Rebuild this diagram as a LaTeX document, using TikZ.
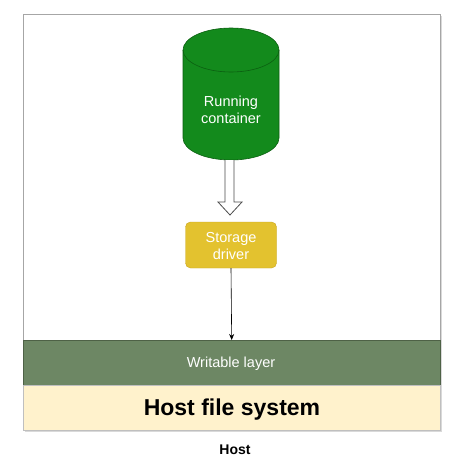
\documentclass[tikz,border=0pt]{standalone}
\usepackage{fontspec}
\setmainfont{Liberation Sans}
\usetikzlibrary{arrows.meta,shadows}
\definecolor{cgreen}{HTML}{138A1C}
\definecolor{cgreenD}{HTML}{0B5E10}
\definecolor{cgold}{HTML}{E3C22F}
\definecolor{cgoldD}{HTML}{C9A520}
\definecolor{wgreen}{HTML}{6D8764}
\definecolor{wgreenD}{HTML}{4E6146}
\definecolor{cream}{HTML}{FFF2CC}
\tikzset{
  lbl/.style={text=white,font=\fontsize{14.5}{17}\selectfont,align=center},
}
\begin{document}
\begin{tikzpicture}[x=1pt,y=-1pt]
\useasboundingbox (0,0) rectangle (474,464);
% outer host box
\node[draw=gray!70,fill=white,minimum width=417pt,minimum height=416pt,inner sep=0,anchor=north west,
  drop shadow={shadow xshift=2pt,shadow yshift=-2pt,opacity=0.3}] (host) at (23,14) {};
% writable layer
\node[draw=wgreenD,fill=wgreen,minimum width=417pt,minimum height=45pt,inner sep=0,anchor=north west] (wl) at (23,340) {};
\node[lbl,font=\fontsize{14.5}{17}\selectfont] (wlt) at (231,364) {Writable layer};
% host file system
\node[draw=gray!50,fill=cream,minimum width=417pt,minimum height=45pt,inner sep=0,anchor=north west] (hfs) at (23,385) {};
\node[font=\bfseries\fontsize{23}{26}\selectfont] (hfst) at (232,410) {Host file system};
% host label
\node[font=\bfseries\fontsize{14}{16}\selectfont] (hl) at (235,450) {Host};
% cylinder
\draw[draw=cgreenD,fill=cgreen,line width=0.6pt]
  (183,50) arc[start angle=180,end angle=0,x radius=48,y radius=-22]
  -- (279,138) arc[start angle=0,end angle=-180,x radius=48,y radius=-22] -- cycle;
\draw[draw=cgreenD,line width=0.6pt] (183,50) arc[start angle=180,end angle=360,x radius=48,y radius=-22];
\coordinate (cylb) at (231,160);
\node[lbl] (cylt) at (231,110) {Running\\container};
% storage driver
\node[draw=cgoldD,fill=cgold,rounded corners=5pt,minimum width=91pt,minimum height=46pt,inner sep=0] (sd) at (231,245) {};
\node[lbl] (sdt) at (231,246.5) {Storage\\driver};
% block arrow
\draw[gray!60!black,fill=white,line width=0.8pt]
  (225,160) -- (225,202) -- (218,202) -- (230,215) -- (242,202) -- (234,202) -- (234,160);
% connector
\draw[-{Stealth[length=6pt,width=5pt]},line width=0.6pt] (sd.south) -- (wl.north);
\end{tikzpicture}
\end{document}
